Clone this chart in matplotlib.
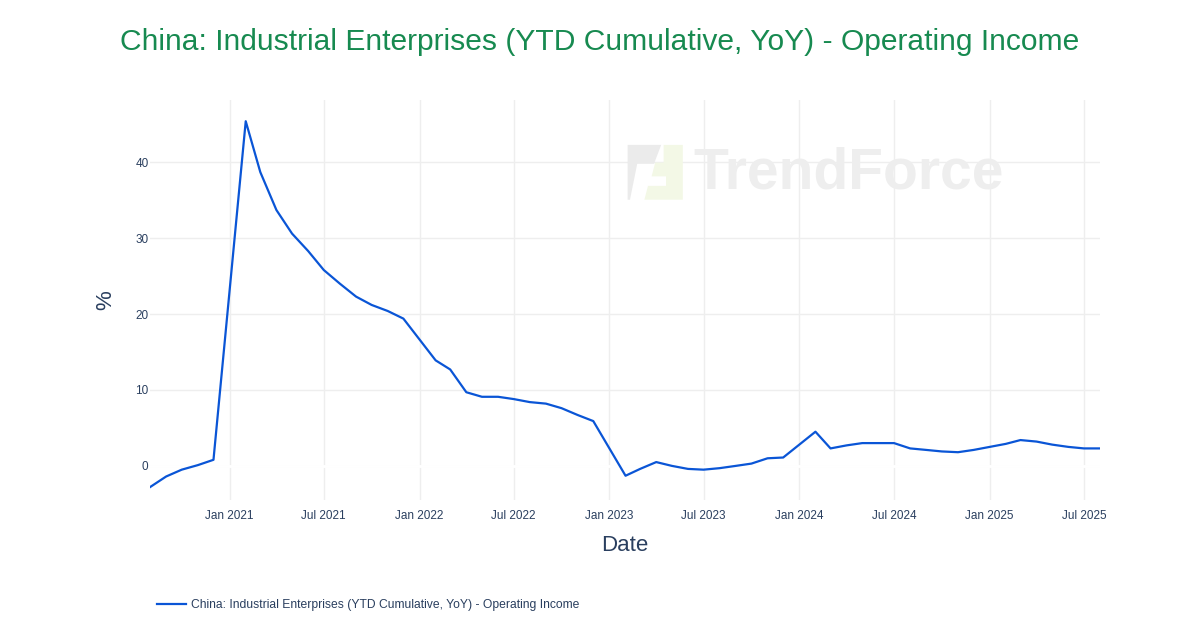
import numpy as np
import pandas as pd
import matplotlib
matplotlib.use('Agg')
import matplotlib.pyplot as plt
import matplotlib.dates as mdates
from matplotlib.patches import Polygon

plt.rcParams['font.family'] = ['Liberation Sans', 'DejaVu Sans']

# monthly YTD data (Jan is merged into Feb release)
months = ['2020-08', '2020-09', '2020-10', '2020-11', '2020-12',
          '2021-02', '2021-03', '2021-04', '2021-05', '2021-06', '2021-07',
          '2021-08', '2021-09', '2021-10', '2021-11', '2021-12',
          '2022-02', '2022-03', '2022-04', '2022-05', '2022-06', '2022-07',
          '2022-08', '2022-09', '2022-10', '2022-11', '2022-12',
          '2023-02', '2023-03', '2023-04', '2023-05', '2023-06', '2023-07',
          '2023-08', '2023-09', '2023-10', '2023-11', '2023-12',
          '2024-02', '2024-03', '2024-04', '2024-05', '2024-06', '2024-07',
          '2024-08', '2024-09', '2024-10', '2024-11', '2024-12',
          '2025-02', '2025-03', '2025-04', '2025-05', '2025-06', '2025-07',
          '2025-08']
income_yoy = [-2.8, -1.4, -0.5, 0.1, 0.8,
              45.4, 38.7, 33.7, 30.6, 28.3, 25.8,
              24.0, 22.3, 21.2, 20.4, 19.4,
              13.9, 12.7, 9.7, 9.1, 9.1, 8.8,
              8.4, 8.2, 7.6, 6.7, 5.9,
              -1.3, -0.4, 0.5, 0.0, -0.4, -0.5,
              -0.3, 0.0, 0.3, 1.0, 1.1,
              4.5, 2.3, 2.7, 3.0, 3.0, 3.0,
              2.3, 2.1, 1.9, 1.8, 2.1,
              2.9, 3.4, 3.2, 2.8, 2.5, 2.3,
              2.3]
series_name = 'China: Industrial Enterprises (YTD Cumulative, YoY) - Operating Income'

dates = pd.to_datetime(months)
text_col = '#2a3f5f'

fig = plt.figure(figsize=(12, 6.3), dpi=100)
ax = fig.add_axes([0.125, 0.2063, 0.7917, 0.635])

# watermark
fig.text(0.578, 0.725, 'TrendForce', fontsize=41, fontweight='bold', color='#eeeeee',
         ha='left', va='center', zorder=0)
fig.patches.append(Polygon([[0.523, 0.77], [0.551, 0.77], [0.545, 0.74], [0.531, 0.74],
                            [0.525, 0.683], [0.523, 0.683]], closed=True,
                           transform=fig.transFigure, facecolor='#ebebeb', edgecolor='none', zorder=0))
fig.patches.append(Polygon([[0.553, 0.77], [0.569, 0.77], [0.569, 0.683], [0.537, 0.683],
                            [0.54, 0.705], [0.555, 0.705], [0.555, 0.72], [0.543, 0.72],
                            [0.546, 0.742], [0.553, 0.742]], closed=True,
                           transform=fig.transFigure, facecolor='#f3f8e6', edgecolor='none', zorder=0))

ax.set_facecolor('none')
ax.plot(dates, income_yoy, color='#0a55d6', lw=1.6, label=series_name, zorder=3)
ax.axhline(0, color='white', lw=2, zorder=2)

ax.set_xlim(pd.Timestamp('2020-08-01'), pd.Timestamp('2025-08-01'))
ax.set_ylim(-4.5, 48.2)
ax.xaxis.set_major_locator(mdates.MonthLocator(bymonth=[1, 7]))
ax.xaxis.set_major_formatter(mdates.DateFormatter('%b %Y'))
ax.set_yticks([0, 10, 20, 30, 40])
ax.grid(True, color='#eeeeee', lw=1, zorder=1)
ax.set_axisbelow(True)
for s in ax.spines.values():
    s.set_visible(False)
ax.tick_params(axis='both', length=0, labelsize=8.5, labelcolor=text_col)
ax.tick_params(axis='x', pad=7.5)
ax.tick_params(axis='y', pad=1)

ax.set_xlabel('Date', fontsize=16, color=text_col, labelpad=9)
ax.set_ylabel('%', fontsize=16, color=text_col, labelpad=14)

fig.suptitle(series_name, x=0.5, y=0.955, fontsize=21.6, color='#178a50')

ax.legend(loc='upper left', bbox_to_anchor=(-0.0046, -0.22), frameon=False,
          fontsize=8.7, labelcolor=text_col, handlelength=2.4, handletextpad=0.45)

fig.savefig('out.png', dpi=100)
